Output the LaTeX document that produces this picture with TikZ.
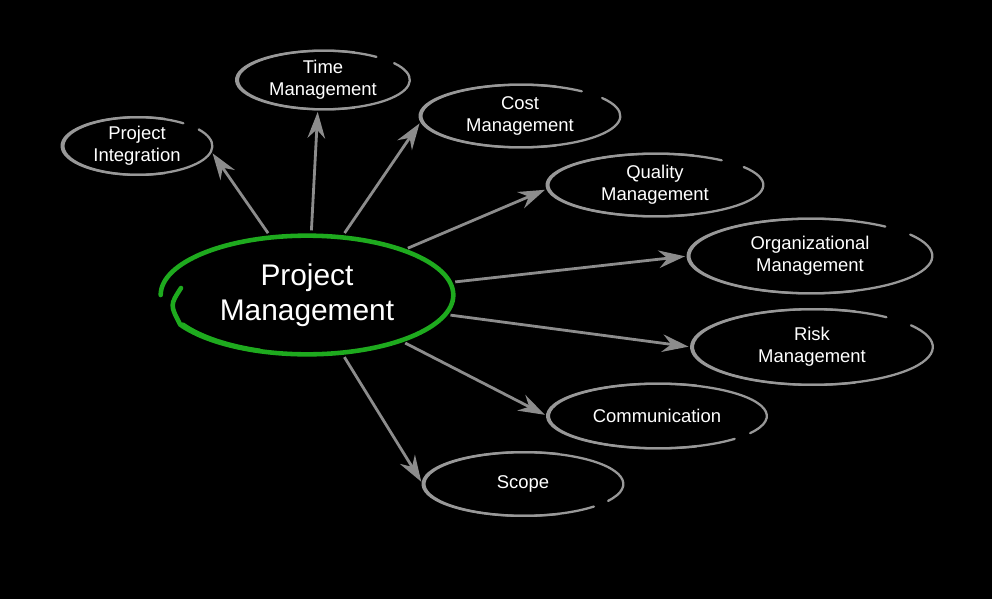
\documentclass[tikz,border=0pt]{standalone}
\usepackage{fontspec}
\setmainfont{Liberation Sans}
\usetikzlibrary{shapes.geometric,arrows.meta,calc}
\definecolor{brushgrey}{RGB}{152,152,152}
\definecolor{linkgrey}{RGB}{140,140,140}
\definecolor{pmgreen}{RGB}{30,170,30}
\tikzset{
  topic/.style={ellipse, inner sep=0pt, align=center, text=white, font=\fontsize{10.5}{12.6}\selectfont},
  brush/.style={draw=brushgrey, line width=1.3pt, line cap=round},
  link/.style={draw=linkgrey, line width=1.6pt, -{Stealth[length=15pt,width=10pt,inset=5pt]}, shorten <=3pt, shorten >=1.5pt},
}
\begin{document}
\begin{tikzpicture}[x=0.02cm, y=-0.02cm]
    \fill[black] (0,0) rectangle (992,599);
    % centre
    \node[ellipse, inner sep=0pt, minimum width=5.84cm, minimum height=2.36cm, align=center, text=white, font=\fontsize{17}{20}\selectfont] (pm) at (307,295) {Project\\Management};
    % topics
    \node[topic, minimum width=3cm, minimum height=1.14cm] (pi) at (137,146) {Project\\Integration};
    \node[topic, minimum width=3.46cm, minimum height=1.16cm] (tm) at (323,80) {Time\\Management};
    \node[topic, minimum width=4cm, minimum height=1.24cm] (cm) at (520,116) {Cost\\Management};
    \node[topic, minimum width=4.32cm, minimum height=1.24cm] (qm) at (655,185) {Quality\\Management};
    \node[topic, minimum width=4.88cm, minimum height=1.48cm] (om) at (810,256) {Organizational\\Management};
    \node[topic, minimum width=4.82cm, minimum height=1.5cm] (rm) at (812,347) {Risk\\Management};
    \node[topic, minimum width=4.38cm, minimum height=1.28cm] (cn) at (657,416) {Communication};
    \node[topic, minimum width=4cm, minimum height=1.26cm] (sc) at (523,484) {Scope};
    % brush strokes, gap at upper right
    \foreach \nd in {pi,tm,cm,qm,om,rm} {
      \draw[brush] let \p1=(\nd.center), \p2=(\nd.east), \p3=(\nd.north) in
        ({\x1+(\x2-\x1)*cos(52)},{\y1+(\y3-\y1)*sin(52)}) arc[start angle=52, end angle=395, x radius={\x2-\x1}, y radius={\y3-\y1}];
      \draw[brush] let \p1=(\nd.center), \p2=(\nd.east), \p3=(\nd.north) in
        ({\x1+1pt+(\x2-\x1)*cos(70)},{\y1+(\y3-\y1)*sin(70)}) arc[start angle=70, end angle=290, x radius={\x2-\x1}, y radius={\y3-\y1}];
    }
    % gap at lower right
    \foreach \nd in {cn,sc} {
      \draw[brush] let \p1=(\nd.center), \p2=(\nd.east), \p3=(\nd.north) in
        ({\x1+(\x2-\x1)*cos(-32)},{\y1+(\y3-\y1)*sin(-32)}) arc[start angle=-32, end angle=315, x radius={\x2-\x1}, y radius={\y3-\y1}];
      \draw[brush] let \p1=(\nd.center), \p2=(\nd.east), \p3=(\nd.north) in
        ({\x1+1pt+(\x2-\x1)*cos(70)},{\y1+(\y3-\y1)*sin(70)}) arc[start angle=70, end angle=290, x radius={\x2-\x1}, y radius={\y3-\y1}];
    }
    % green stroke with hook
    \draw[draw=pmgreen, line width=2.6pt, line cap=round] let \p1=(pm.center), \p2=(pm.east), \p3=(pm.north) in
      ({\x1-(\x2-\x1)},\y1) arc[start angle=180, end angle=-150, x radius={\x2-\x1}, y radius={\y3-\y1}]
      .. controls ($(pm.center)+(-137,10)$) .. ($(pm.center)+(-126,-7)$);
    \draw[draw=pmgreen, line width=2.6pt, line cap=round] let \p1=(pm.center), \p2=(pm.east), \p3=(pm.north) in
      ({\x1+1.5pt+(\x2-\x1)*cos(-110)},{\y1+(\y3-\y1)*sin(-110)}) arc[start angle=-110, end angle=-150, x radius={\x2-\x1}, y radius={\y3-\y1}];
    % arrows
    \draw[link] (pm.122) -- (pi.-4);
    \draw[link] (pm.86) -- (tm.260);
    \draw[link] (pm.59) -- (cm.183);
    \draw[link] (pm.25) -- (qm.182);
    \draw[link] (pm.5) -- (om.180);
    \draw[link] (pm.-8) -- (rm.180);
    \draw[link] (pm.-26) -- (cn.180);
    \draw[link] (pm.-59) -- (sc.180);
\end{tikzpicture}
\end{document}
